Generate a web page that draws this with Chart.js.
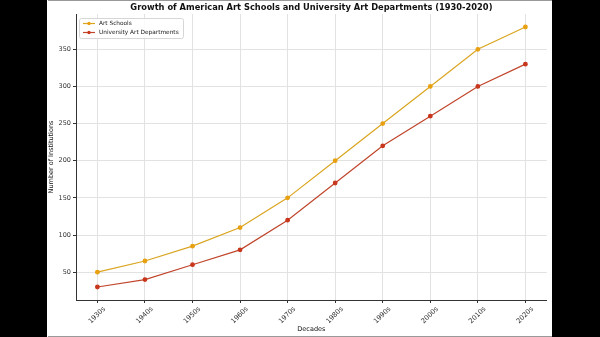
<!DOCTYPE html>
<html>
<head>
<meta charset="utf-8">
<script src="https://cdn.jsdelivr.net/npm/chart.js@4.4.1/dist/chart.umd.min.js"></script>
<style>
    html, body { margin: 0; padding: 0; background: #000; }
    #wrap { position: absolute; left: 47px; top: 0; width: 505px; height: 337px; background: #fff; }
    .edge { position: absolute; left: 48px; width: 504px; height: 1px; background: #999; }
</style>
</head>
<body>
<div id="wrap"><canvas id="growthChart"></canvas></div>
<div class="edge" style="top:0"></div>
<div class="edge" style="top:336px"></div>
<script>
// Chart data
const decades = ['1930s', '1940s', '1950s', '1960s', '1970s', '1980s', '1990s', '2000s', '2010s', '2020s'];
const artSchools = [50, 65, 85, 110, 150, 200, 250, 300, 350, 380];
const universityDepts = [30, 40, 60, 80, 120, 170, 220, 260, 300, 330];
const yTicks = [50, 100, 150, 200, 250, 300, 350];
const chartTitle = 'Growth of American Art Schools and University Art Departments (1930-2020)';

const FONT = 'DejaVu Sans';

// x is a linear index so the axis can have matplotlib-like margins
const toPoints = arr => arr.map((v, i) => ({ x: i, y: v }));

// title centred over the plot area, legend inside the plot (matplotlib style)
const plotDecor = {
    id: 'plotDecor',
    afterDraw(chart) {
        const ctx = chart.ctx;
        const area = chart.chartArea;
        ctx.save();
        ctx.fillStyle = '#111';
        ctx.font = 'bold 8.3px ' + FONT;
        ctx.textAlign = 'center';
        ctx.textBaseline = 'middle';
        ctx.fillText(chartTitle, (area.left + area.right) / 2, 8);

        const x = area.left + 3, y = area.top + 4;
        const w = 104, h = 20;
        ctx.textAlign = 'left';
        ctx.fillStyle = 'rgba(255,255,255,0.85)';
        ctx.strokeStyle = '#d6d6d6';
        ctx.lineWidth = 1;
        ctx.beginPath();
        ctx.roundRect(x + 0.5, y + 0.5, w, h, 2);
        ctx.fill();
        ctx.stroke();
        ctx.font = '5.8px ' + FONT;
        chart.data.datasets.forEach((ds, i) => {
            const ly = y + 5.5 + i * 9;
            ctx.strokeStyle = ds.borderColor;
            ctx.lineWidth = 1.2;
            ctx.beginPath();
            ctx.moveTo(x + 4, ly);
            ctx.lineTo(x + 16, ly);
            ctx.stroke();
            ctx.fillStyle = ds.pointBackgroundColor;
            ctx.beginPath();
            ctx.arc(x + 10, ly, 1.7, 0, Math.PI * 2);
            ctx.fill();
            ctx.fillStyle = '#222';
            ctx.fillText(ds.label, x + 20, ly);
        });
        ctx.restore();
    }
};

document.addEventListener('DOMContentLoaded', function() {
    const ctx = document.getElementById('growthChart').getContext('2d');

    new Chart(ctx, {
        type: 'line',
        data: {
            datasets: [{
                label: 'Art Schools',
                data: toPoints(artSchools),
                borderColor: '#daa520',
                pointBackgroundColor: '#e8a010',
                pointBorderColor: '#e8a010',
                borderWidth: 1.2,
                pointRadius: 1.8,
                tension: 0
            },
            {
                label: 'University Art Departments',
                data: toPoints(universityDepts),
                borderColor: '#c0452b',
                pointBackgroundColor: '#c8361c',
                pointBorderColor: '#c8361c',
                borderWidth: 1.2,
                pointRadius: 1.8,
                tension: 0
            }]
        },
        options: {
            responsive: true,
            maintainAspectRatio: false,
            animation: false,
            layout: {
                padding: { left: 0, right: 3, top: 14, bottom: 0 }
            },
            plugins: {
                legend: { display: false },
                tooltip: { enabled: false },
                title: { display: false }
            },
            scales: {
                x: {
                    type: 'linear',
                    min: -0.45,
                    max: 9.45,
                    afterFit(scale) { scale.height = 37; },
                    afterBuildTicks(scale) {
                        scale.ticks = decades.map((d, i) => ({ value: i }));
                    },
                    grid: { color: '#e2e2e2', tickColor: '#333', tickLength: 3 },
                    border: { display: true, color: '#333', width: 1 },
                    ticks: {
                        color: '#333',
                        font: { family: FONT, size: 6.8 },
                        minRotation: 45,
                        maxRotation: 45,
                        labelOffset: 7,
                        padding: 2,
                        autoSkip: false,
                        callback: value => decades[value]
                    },
                    title: {
                        display: true,
                        text: 'Decades',
                        color: '#111',
                        font: { family: FONT, size: 6.5 },
                        padding: { top: 0, bottom: 4 }
                    }
                },
                y: {
                    min: 12.5,
                    max: 397.5,
                    afterFit(scale) { scale.width = 29; },
                    afterBuildTicks(scale) {
                        scale.ticks = yTicks.map(v => ({ value: v }));
                    },
                    grid: { color: '#e2e2e2', tickColor: '#333', tickLength: 3 },
                    border: { display: true, color: '#333', width: 1 },
                    ticks: {
                        color: '#333',
                        font: { family: FONT, size: 6.5 },
                        padding: 2
                    },
                    title: {
                        display: true,
                        text: 'Number of Institutions',
                        color: '#111',
                        font: { family: FONT, size: 6.5 },
                        padding: { top: 0, bottom: 2 }
                    }
                }
            }
        },
        plugins: [plotDecor]
    });
});
</script>
</body>
</html>
